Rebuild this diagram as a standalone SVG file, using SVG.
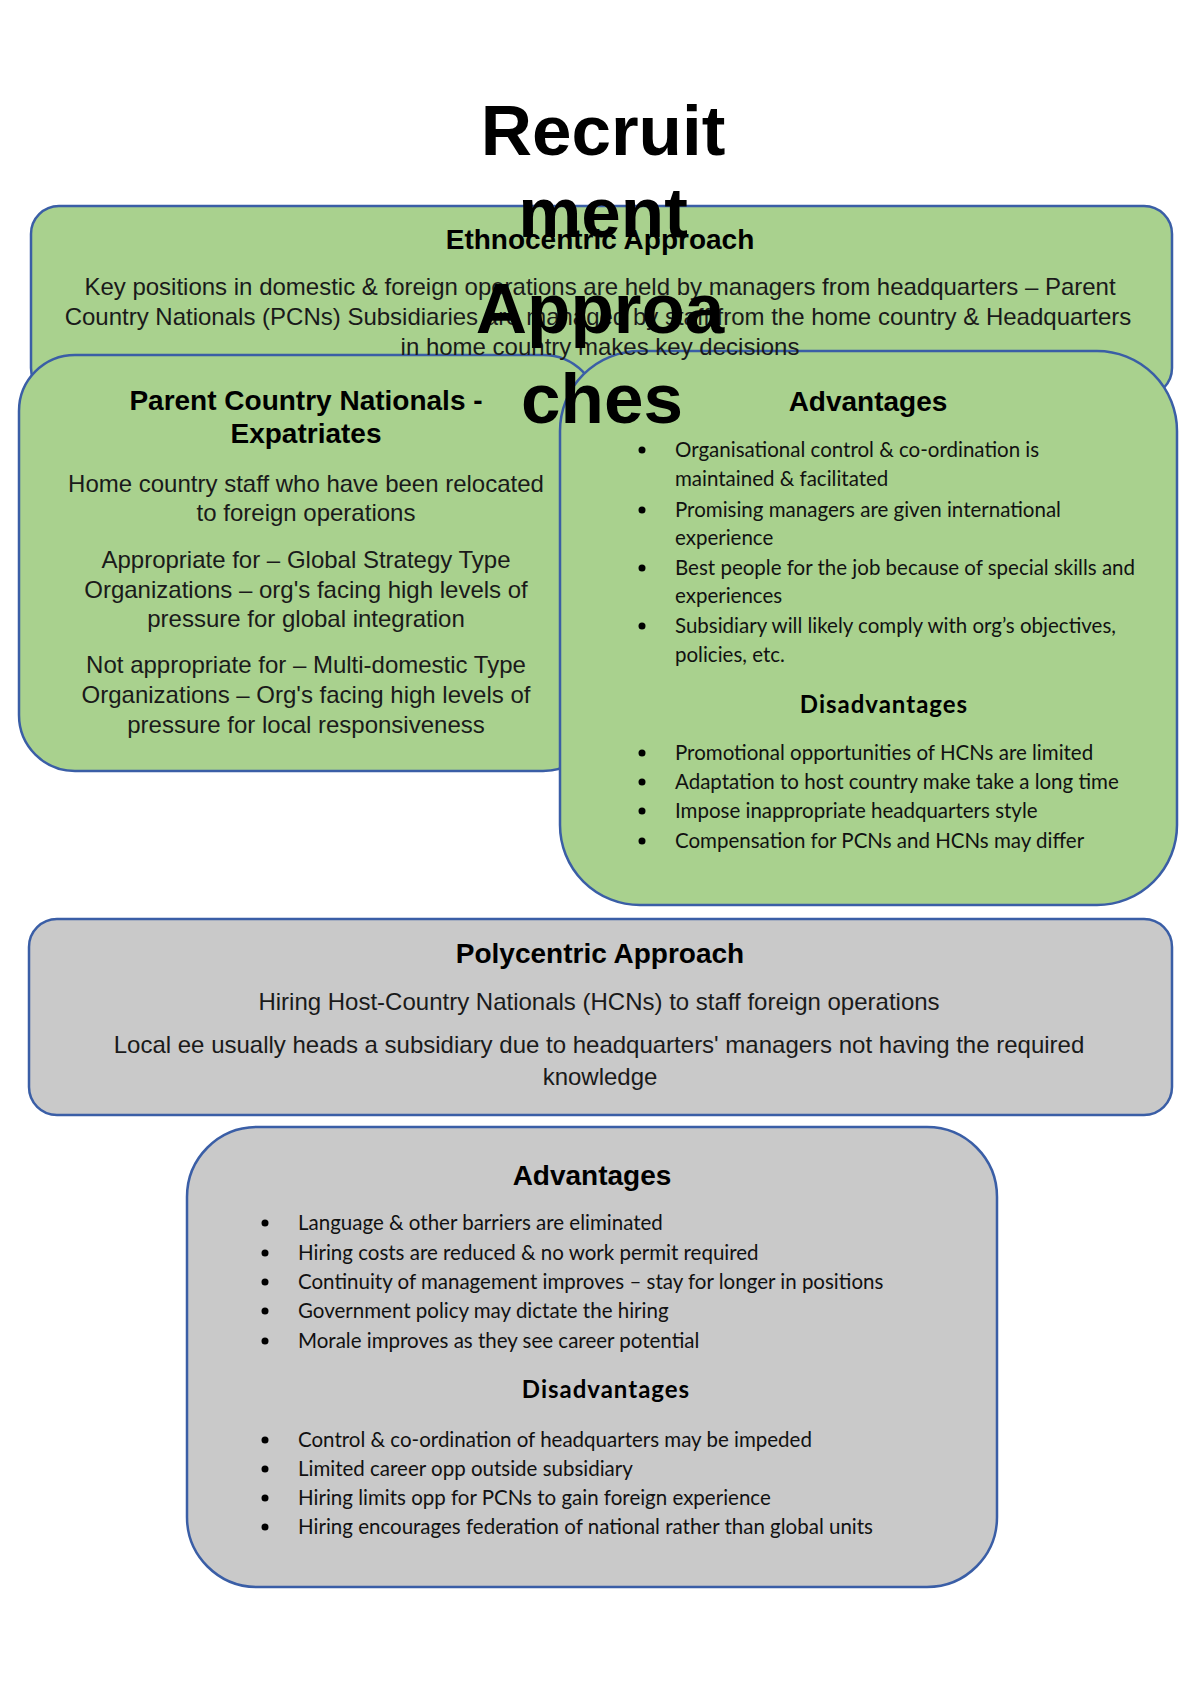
<svg xmlns="http://www.w3.org/2000/svg" width="1200" height="1698" viewBox="0 0 1200 1698">
<style>
.box{stroke:#3A5EA6;stroke-width:2.5}
.green{fill:#A9D18E}
.gray{fill:#C9C9C9}
.h{font-family:"Liberation Sans",Arial,sans-serif;font-weight:bold;font-size:28px;fill:#000;text-anchor:middle}
.b{font-family:"Liberation Sans",Arial,sans-serif;font-size:24px;fill:#1a1a1a;text-anchor:middle}
.li{font-family:Lato,"Liberation Sans",sans-serif;font-size:20.5px;fill:#111}
.lh{font-family:Lato,"Liberation Sans",sans-serif;font-weight:bold;font-size:24px;letter-spacing:1px;fill:#000;text-anchor:middle}
.dot{fill:#000}
.title{font-family:"Liberation Sans",Arial,sans-serif;font-weight:bold;font-size:71px;fill:#000;text-anchor:middle}
</style>
<rect width="1200" height="1698" fill="#fff"/>
<g id="connectors"></g>
<g id="ethnocentric">
<rect class="box green" x="31" y="206" width="1141" height="190" rx="28"/>
<text class="h" x="600" y="249">Ethnocentric Approach</text>
<text class="b" x="600" y="295">Key positions in domestic &amp; foreign operations are held by managers from headquarters – Parent</text>
<text class="b" x="598" y="325">Country Nationals (PCNs) Subsidiaries are managed by staff from the home country &amp; Headquarters</text>
</g>
<g id="pcn">
<rect class="box green" x="19" y="355" width="580" height="416" rx="56"/>
<text class="h" x="306" y="410">Parent Country Nationals -</text>
<text class="h" x="306" y="443">Expatriates</text>
<text class="b" x="306" y="492">Home country staff who have been relocated</text>
<text class="b" x="306" y="521">to foreign operations</text>
<text class="b" x="306" y="568">Appropriate for – Global Strategy Type</text>
<text class="b" x="306" y="598">Organizations – org's facing high levels of</text>
<text class="b" x="306" y="627">pressure for global integration</text>
<text class="b" x="306" y="673">Not appropriate for – Multi-domestic Type</text>
<text class="b" x="306" y="703">Organizations – Org's facing high levels of</text>
<text class="b" x="306" y="733">pressure for local responsiveness</text>
</g>
<g id="ethno-adv">
<rect class="box green" x="560" y="351" width="617" height="554" rx="80"/>
<text class="h" x="868" y="411">Advantages</text>
<circle class="dot" cx="642" cy="450" r="3.5"/>
<circle class="dot" cx="642" cy="510" r="3.5"/>
<circle class="dot" cx="642" cy="568" r="3.5"/>
<circle class="dot" cx="642" cy="626" r="3.5"/>
<text class="li" x="675" y="457">Organisational control &amp; co-ordination is</text>
<text class="li" x="675" y="486">maintained &amp; facilitated</text>
<text class="li" x="675" y="517">Promising managers are given international</text>
<text class="li" x="675" y="545">experience</text>
<text class="li" x="675" y="575">Best people for the job because of special skills and</text>
<text class="li" x="675" y="603">experiences</text>
<text class="li" x="675" y="633">Subsidiary will likely comply with org’s objectives,</text>
<text class="li" x="675" y="662">policies, etc.</text>
<text class="lh" x="884" y="713">Disadvantages</text>
<circle class="dot" cx="642" cy="753" r="3.5"/>
<circle class="dot" cx="642" cy="782" r="3.5"/>
<circle class="dot" cx="642" cy="811" r="3.5"/>
<circle class="dot" cx="642" cy="841" r="3.5"/>
<text class="li" x="675" y="760">Promotional opportunities of HCNs are limited</text>
<text class="li" x="675" y="789">Adaptation to host country make take a long time</text>
<text class="li" x="675" y="818">Impose inappropriate headquarters style</text>
<text class="li" x="675" y="848">Compensation for PCNs and HCNs may differ</text>
</g>
<g id="ethno-line3">
<text class="b" x="600" y="355">in home country makes key decisions</text>
</g>
<g id="polycentric">
<rect class="box gray" x="29" y="919" width="1143" height="196" rx="28"/>
<text class="h" x="600" y="963">Polycentric Approach</text>
<text class="b" x="599" y="1010">Hiring Host-Country Nationals (HCNs) to staff foreign operations</text>
<text class="b" x="599" y="1053">Local ee usually heads a subsidiary due to headquarters' managers not having the required</text>
<text class="b" x="600" y="1085">knowledge</text>
</g>
<g id="poly-adv">
<rect class="box gray" x="187" y="1127" width="810" height="460" rx="70"/>
<text class="h" x="592" y="1185">Advantages</text>
<circle class="dot" cx="265" cy="1223" r="3.5"/>
<circle class="dot" cx="265" cy="1253" r="3.5"/>
<circle class="dot" cx="265" cy="1282" r="3.5"/>
<circle class="dot" cx="265" cy="1311" r="3.5"/>
<circle class="dot" cx="265" cy="1341" r="3.5"/>
<text class="li" x="298" y="1230">Language &amp; other barriers are eliminated</text>
<text class="li" x="298" y="1260">Hiring costs are reduced &amp; no work permit required</text>
<text class="li" x="298" y="1289">Continuity of management improves – stay for longer in positions</text>
<text class="li" x="298" y="1318">Government policy may dictate the hiring</text>
<text class="li" x="298" y="1348">Morale improves as they see career potential</text>
<text class="lh" x="606" y="1398">Disadvantages</text>
<circle class="dot" cx="265" cy="1440" r="3.5"/>
<circle class="dot" cx="265" cy="1469" r="3.5"/>
<circle class="dot" cx="265" cy="1498" r="3.5"/>
<circle class="dot" cx="265" cy="1527" r="3.5"/>
<text class="li" x="298" y="1447">Control &amp; co-ordination of headquarters may be impeded</text>
<text class="li" x="298" y="1476">Limited career opp outside subsidiary</text>
<text class="li" x="298" y="1505">Hiring limits opp for PCNs to gain foreign experience</text>
<text class="li" x="298" y="1534">Hiring encourages federation of national rather than global units</text>
</g>
<g id="title">
<text class="title" x="603" y="155">Recruit</text>
<text class="title" x="603" y="237">ment</text>
<text class="title" x="600" y="333">Approa</text>
<text class="title" x="602" y="423">ches</text>
</g>
</svg>
